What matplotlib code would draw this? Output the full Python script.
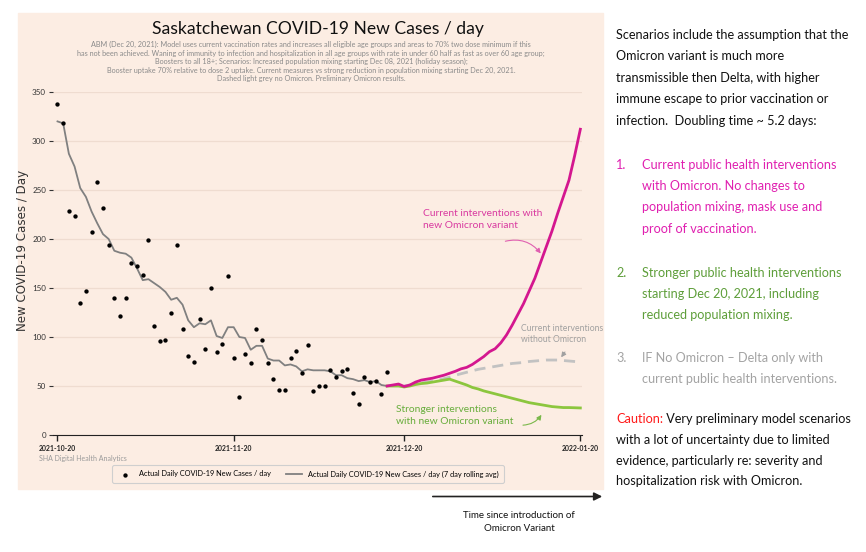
import numpy as np
import pandas as pd
import matplotlib
matplotlib.use('Agg')
import matplotlib.pyplot as plt
import matplotlib.dates as mdates
from matplotlib.patches import Rectangle

FONT = ['Lato', 'DejaVu Sans']
plt.rcParams['font.family'] = FONT

# actual daily cases, Oct 20 - Dec 17 2021
actual_dates = pd.date_range('2021-10-20', periods=59)
actual_cases = [338, 318, 229, 223, 135, 147, 207, 258, 232, 194, 140, 121, 140, 176, 172,
                163, 199, 111, 96, 97, 124, 194, 108, 81, 75, 118, 88, 150, 85, 93,
                162, 79, 39, 83, 73, 108, 97, 73, 57, 46, 46, 79, 86, 63, 92,
                45, 50, 50, 66, 59, 65, 67, 43, 32, 59, 54, 55, 42, 64]
rolling_avg = [320, 318, 287, 274, 252, 243, 228, 216, 205, 200, 188, 186, 185, 181, 170,
               158, 159, 155, 151, 146, 138, 140, 133, 117, 110, 114, 113, 117, 101, 99,
               110, 110, 100, 99, 87, 91, 91, 78, 76, 76, 71, 72, 70, 65, 67,
               66, 66, 66, 65, 61, 61, 58, 57, 55, 56, 54, 55, 51, 50]

# model scenarios
model_dates = pd.date_range('2021-12-17', '2022-01-20')
current_omicron = [50, 51, 52, 49.5, 51, 54, 56, 57, 58, 59.5, 61, 63, 65, 67.5, 69, 72, 76, 80,
                   85, 88, 94, 102, 112, 123, 134, 147, 160, 176, 192, 208, 226, 243, 260, 285, 312]
stronger_omicron = [50, 50, 50, 49, 50, 51.5, 52.5, 53, 54, 55, 56, 57, 55, 53, 51, 48.5, 47, 45,
                    43.5, 42, 40.5, 39, 37.5, 36, 34.5, 33, 32, 31, 30, 29, 28.5, 28, 28, 27.8, 27.6]
no_omicron_dates = pd.date_range('2021-12-20', '2022-01-20')
no_omicron = [50, 51, 52, 53, 54, 55, 56, 57.5, 59, 61, 62.5, 64, 65.5, 67, 68, 69, 70, 71,
              72, 73, 73.5, 74, 75, 75.5, 76, 76.5, 76.5, 76.5, 76, 75.5, 75, 74.5]

xticks = ['2021-10-20', '2021-11-20', '2021-12-20', '2022-01-20']
yticks = [0, 50, 100, 150, 200, 250, 300, 350]

subtitle = ("ABM (Dec 20, 2021): Model uses current vaccination rates and increases all eligible age groups and areas to 70% two dose minimum if this\n"
            "has not been achieved. Waning of immunity to infection and hospitalization in all age groups with rate in under 60 half as fast as over 60 age group;\n"
            "Boosters to all 18+; Scenarios: Increased population mixing starting Dec 08, 2021 (holiday season);\n"
            "Booster uptake 70% relative to dose 2 uptake. Current measures vs strong reduction in population mixing starting Dec 20, 2021.\n"
            "Dashed light grey no Omicron. Preliminary Omicron results.")

intro = ["Scenarios include the assumption that the",
         "Omicron variant is much more",
         "transmissible then Delta, with higher",
         "immune escape to prior vaccination or",
         "infection.  Doubling time ~ 5.2 days:"]
item1 = ["Current public health interventions", "with Omicron. No changes to",
         "population mixing, mask use and", "proof of vaccination."]
item2 = ["Stronger public health interventions", "starting Dec 20, 2021, including",
         "reduced population mixing."]
item3 = ["IF No Omicron \u2013 Delta only with", "current public health interventions."]
caution = ["Very preliminary model scenarios", "with a lot of uncertainty due to limited",
           "evidence, particularly re: severity and", "hospitalization risk with Omicron."]

PEACH = '#fcede3'
MAGENTA = '#d4178f'
GREEN = '#8cc63e'

W, H = 866, 552
fig = plt.figure(figsize=(W / 100, H / 100), dpi=100)
renderer = fig.canvas.get_renderer()


def size_for(s, target, weight='normal', family=FONT):
    # font size that makes string s about target pixels wide
    t = fig.text(0, 0, s, fontsize=10, fontweight=weight, family=family)
    w = t.get_window_extent(renderer).width
    t.remove()
    return 10 * target / w


# full-figure layer in pixel coords for background and side text
bg = fig.add_axes([0, 0, 1, 1])
bg.set_xlim(0, W)
bg.set_ylim(H, 0)
bg.axis('off')
bg.add_patch(Rectangle((18, 13), 585, 476, color=PEACH, zorder=0))

bg.text(318, 29, 'Saskatchewan COVID-19 New Cases / day', ha='center', va='center',
        fontsize=size_for('Saskatchewan COVID-19 New Cases / day', 330), color='#111111')
bg.text(311, 61.5, subtitle, ha='center', va='center', color='#8a8a8a', linespacing=1.22,
        fontsize=size_for(subtitle.split('\n')[1], 468))
bg.text(39, 458, 'SHA Digital Health Analytics', ha='left', va='center', color='#9a9a9a',
        fontsize=size_for('SHA Digital Health Analytics', 88))

fs = size_for(intro[0], 232)
side = dict(fontsize=fs, va='center', ha='left')
for i, s in enumerate(intro):
    bg.text(616, 35 + i * 21.4, s, color='#111111', **side)
bg.text(616, 165, '1.', color='#e020b0', **side)
for i, s in enumerate(item1):
    bg.text(642, 165 + i * 21.2, s, color='#e020b0', **side)
bg.text(616, 273, '2.', color='#5e9e3a', **side)
for i, s in enumerate(item2):
    bg.text(642, 273 + i * 21.2, s, color='#5e9e3a', **side)
bg.text(616, 358, '3.', color='#a3a3a3', **side)
for i, s in enumerate(item3):
    bg.text(642, 358 + i * 21.2, s, color='#a3a3a3', **side)
ct = bg.text(616, 419, 'Caution:', color='#ff1a1a', **side)
bg.annotate(' ' + caution[0], xy=(1, 0.5), xycoords=ct, va='center', ha='left',
            fontsize=fs, color='#111111')
for i, s in enumerate(caution[1:]):
    bg.text(616, 440 + i * 20.6, s, color='#111111', **side)

bg.annotate('', xy=(605, 496.5), xytext=(430, 496.5),
            arrowprops=dict(arrowstyle='-|>', color='#222222', lw=1.2, mutation_scale=12))
bg.text(519, 522, 'Time since introduction of\nOmicron Variant', ha='center', va='center',
        fontsize=size_for('Time since introduction of', 113), color='#111111', linespacing=1.45)

# chart
ax = fig.add_axes([53 / W, 1 - 435 / H, (582 - 53) / W, (435 - 92) / H])
ax.set_facecolor('none')

ax.plot(actual_dates, rolling_avg, color='#808080', lw=1.3, zorder=3,
        label='Actual Daily COVID-19 New Cases / day (7 day rolling avg)')
ax.scatter(actual_dates, actual_cases, s=4.5, color='black', zorder=4,
           label='Actual Daily COVID-19 New Cases / day')
ax.plot(no_omicron_dates, no_omicron, color='#c2c2c2', lw=2, ls=(0, (4, 2.5)), zorder=2)
ax.plot(model_dates, stronger_omicron, color=GREEN, lw=2, zorder=3)
ax.plot(model_dates, current_omicron, color=MAGENTA, lw=2, zorder=3)

ax.set_xlim(pd.Timestamp('2021-10-19 05:00'), pd.Timestamp('2022-01-20 07:00'))
ax.set_ylim(0, 350)
ax.set_xticks(pd.to_datetime(xticks))
ax.xaxis.set_major_formatter(mdates.DateFormatter('%Y-%m-%d'))
ax.set_yticks(yticks)
ax.tick_params(axis='x', labelsize=size_for('2021-10-20', 37, 'bold'), length=4, width=1,
               colors='#222222', pad=3)
ax.tick_params(axis='y', labelsize=size_for('350', 14), length=3, width=0.8,
               colors='#333333', pad=2)
for lab in ax.get_xticklabels():
    lab.set_fontweight('bold')
ax.grid(axis='y', color='#efdcd0', lw=0.9)
ax.set_axisbelow(True)
for sp in ['left', 'right', 'top']:
    ax.spines[sp].set_visible(False)
ax.spines['bottom'].set_color('#222222')
ax.set_ylabel('New COVID-19 Cases / Day', family='DejaVu Sans', color='#333333',
              fontsize=size_for('New COVID-19 Cases / Day', 162, family='DejaVu Sans'))
ax.yaxis.set_label_coords((29 - 53) / 529, (435 - 250) / 343)

# annotations
ax.annotate('Current interventions with\nnew Omicron variant', xy=(pd.Timestamp('2021-12-23 06:00'), 220),
            ha='left', va='center', fontsize=size_for('Current interventions with', 120),
            color='#d93aa0', linespacing=1.4)
ax.annotate('', xy=(pd.Timestamp('2022-01-13 08:00'), 183), xytext=(pd.Timestamp('2022-01-06 08:00'), 197),
            arrowprops=dict(arrowstyle='-|>', color='#e060b0', lw=0.8,
                            connectionstyle='arc3,rad=-0.35', mutation_scale=7))
ax.annotate('Current interventions\nwithout Omicron', xy=(pd.Timestamp('2022-01-09 14:00'), 103),
            ha='left', va='center', fontsize=size_for('Current interventions', 82),
            color='#a0a0a0', linespacing=1.35)
ax.annotate('', xy=(pd.Timestamp('2022-01-16 08:00'), 77), xytext=(pd.Timestamp('2022-01-17 14:00'), 87),
            arrowprops=dict(arrowstyle='-|>', color='#a0a0a0', lw=0.8, mutation_scale=7))
ax.annotate('Stronger interventions\nwith new Omicron variant', xy=(pd.Timestamp('2021-12-18 12:00'), 19.5),
            ha='left', va='center', fontsize=size_for('Stronger interventions', 102),
            color='#67ad3b', linespacing=1.4)
ax.annotate('', xy=(pd.Timestamp('2022-01-13 10:00'), 23), xytext=(pd.Timestamp('2022-01-09 10:00'), 10),
            arrowprops=dict(arrowstyle='-|>', color='#7ab84a', lw=0.8,
                            connectionstyle='arc3,rad=0.3', mutation_scale=7))

handles, labels = ax.get_legend_handles_labels()
leg = ax.legend(handles[::-1], labels[::-1], ncol=2, loc='center',
                fontsize=size_for('Actual Daily COVID-19 New Cases / day', 131),
                bbox_to_anchor=(308 / W, 1 - 474 / H), bbox_transform=fig.transFigure,
                facecolor=PEACH, edgecolor='#cfcfcf', framealpha=1, handlelength=2.2,
                borderpad=0.7, columnspacing=2.0, fancybox=True)
leg.get_frame().set_linewidth(0.8)

fig.savefig('out.png', dpi=100)
